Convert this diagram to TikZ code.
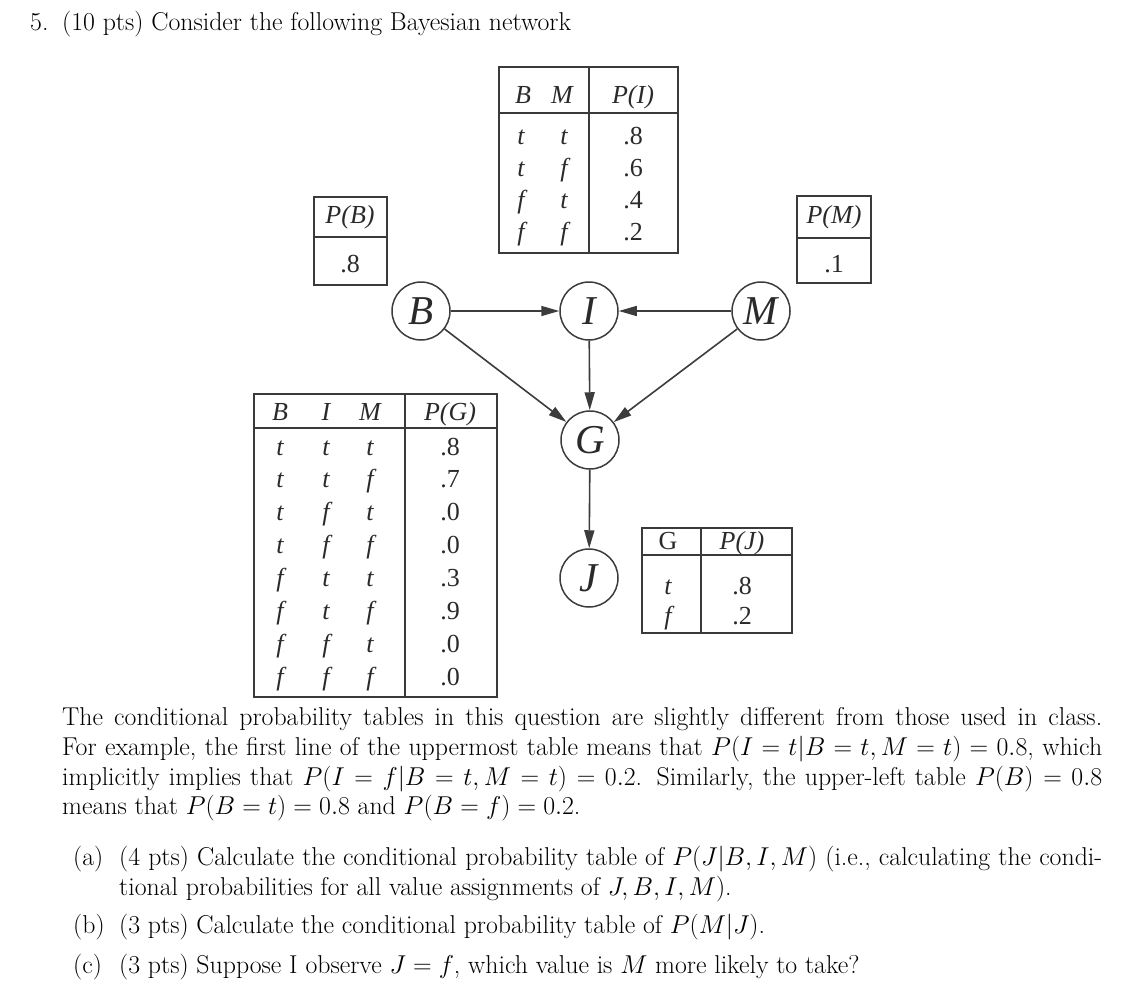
\RequirePackage{fix-cm}
\documentclass[tikz,border=0pt]{standalone}
\usepackage{fontspec}
\newfontfamily\tms{Liberation Serif}
\usetikzlibrary{arrows.meta}
\definecolor{tblc}{HTML}{3A3A3A}
\definecolor{tblt}{HTML}{2A2A2A}
\definecolor{nodec}{HTML}{3C3C3C}
\begin{document}
\begin{tikzpicture}[x=1pt,y=-1pt,
  tbl/.style={draw=tblc, line width=1.8pt},
  cell/.style={anchor=base, inner sep=0pt, text=tblt, font=\tms\fontsize{26}{26}\selectfont},
  icell/.style={anchor=base, inner sep=0pt, text=tblt, font=\tms\itshape\fontsize{26}{26}\selectfont},
  bn/.style={circle, draw=nodec, line width=1.5pt, minimum size=58pt, inner sep=0pt, text=tblt, font=\tms\itshape\fontsize{41}{41}\selectfont},
  edge/.style={draw=nodec, line width=1.6pt, -{Triangle[length=18pt,width=10pt]}},
  txt/.style={anchor=base west, inner sep=0pt, font=\fontsize{25.8}{30}\selectfont}]
\useasboundingbox (0,0) rectangle (1142,1006);

% ---------- Table P(I)
\draw[tbl] (499,67) rectangle (678,253);
\draw[tbl] (499,113) -- (678,113);
\draw[tbl] (589,67) -- (589,253);
\node[icell] (hIB) at (523,103) {B};
\node[icell] (hIM) at (562,103) {M};
\node[icell] (hIP) at (633,103) {P(I)};
\foreach \a/\b/\v [count=\k from 0] in {t/t/.8, t/f/.6, f/t/.4, f/f/.2}{
  \node[icell] (iB\k) at (521,144+32.3*\k) {\a};
  \node[icell] (iM\k) at (564,144+32.3*\k) {\b};
  \node[cell]  (iP\k) at (633,144+32.3*\k) {\v};
}

% ---------- Table P(B)
\draw[tbl] (314,197) rectangle (387,285);
\draw[tbl] (314,237) -- (387,237);
\node[icell] (hB) at (350,223) {P(B)};
\node[cell] (vB) at (350,272) {.8};

% ---------- Table P(M)
\draw[tbl] (797,196) rectangle (871,283);
\draw[tbl] (797,238) -- (871,238);
\node[icell] (hM) at (834,223) {P(M)};
\node[cell] (vM) at (834,272) {.1};

% ---------- Table P(G)
\draw[tbl] (254,394) rectangle (497,697);
\draw[tbl] (254,428) -- (497,428);
\draw[tbl] (405,394) -- (405,697);
\node[icell] (hGB) at (280,420) {B};
\node[icell] (hGI) at (326,420) {I};
\node[icell] (hGM) at (370,420) {M};
\node[icell] (hGP) at (450,420) {P(G)};
\foreach \a/\b/\c/\v [count=\k from 0] in {t/t/t/.8, t/t/f/.7, t/f/t/.0, t/f/f/.0, f/t/t/.3, f/t/f/.9, f/f/t/.0, f/f/f/.0}{
  \node[icell] (gB\k) at (280,455+32.86*\k) {\a};
  \node[icell] (gI\k) at (326,455+32.86*\k) {\b};
  \node[icell] (gM\k) at (370,455+32.86*\k) {\c};
  \node[cell]  (gP\k) at (450,455+32.86*\k) {\v};
}

% ---------- Table P(J)
\draw[tbl] (642,528) rectangle (792,633);
\draw[tbl] (642,555) -- (792,555);
\draw[tbl] (701,528) -- (701,633);
\node[cell] (hJG) at (668,549) {G};
\node[icell] (hJP) at (742,549) {P(J)};
\node[icell] (jG0) at (668,594) {t};
\node[cell]  (jP0) at (742,594) {.8};
\node[icell] (jG1) at (668,624) {f};
\node[cell]  (jP1) at (742,624) {.2};

% ---------- Network
\node[bn] (B) at (421,311) {B};
\node[bn] (I) at (589,311) {I};
\node[bn] (M) at (761,311) {M};
\node[bn] (G) at (590,440) {G};
\node[bn] (J) at (589,578) {J};
\draw[edge] (B) -- (I);
\draw[edge] (M) -- (I);
\draw[edge] (I) -- (G);
\draw[edge] (B) -- (G);
\draw[edge] (M) -- (G);
\draw[edge] (G) -- (J);

% ---------- Text
\node[txt] (n5) at (30,31) {5.};
\node[txt] (t0) at (62,31) {(10 pts) Consider the following Bayesian network};
\node[txt] (p1) at (62,725) {\makebox[1040pt][s]{The conditional probability tables in this question are slightly different from those used in class.}};
\node[txt] (p2) at (62,755) {\makebox[1040pt][s]{For example, the first line of the uppermost table means that $P(I = t|B = t, M = t) = 0.8$, which}};
\node[txt] (p3) at (62,785) {\makebox[1040pt][s]{implicitly implies that $P(I = f|B = t, M = t) = 0.2$. Similarly, the upper-left table $P(B) = 0.8$}};
\node[txt] (p4) at (62,814) {means that $P(B = t) = 0.8$ and $P(B = f) = 0.2$.};

\node[txt] (la) at (73,865) {(a)};
\node[txt] (a1) at (119,865) {\makebox[983pt][s]{(4 pts) Calculate the conditional probability table of $P(J|B, I, M)$ (i.e., calculating the condi-}};
\node[txt] (a2) at (119,895) {tional probabilities for all value assignments of $J, B, I, M$).};
\node[txt] (lb) at (73,933) {(b)};
\node[txt] (b1) at (119,933) {(3 pts) Calculate the conditional probability table of $P(M|J)$.};
\node[txt] (lc) at (73,973) {(c)};
\node[txt] (c1) at (119,973) {(3 pts) Suppose I observe $J = f$, which value is $M$ more likely to take?};
\end{tikzpicture}
\end{document}
